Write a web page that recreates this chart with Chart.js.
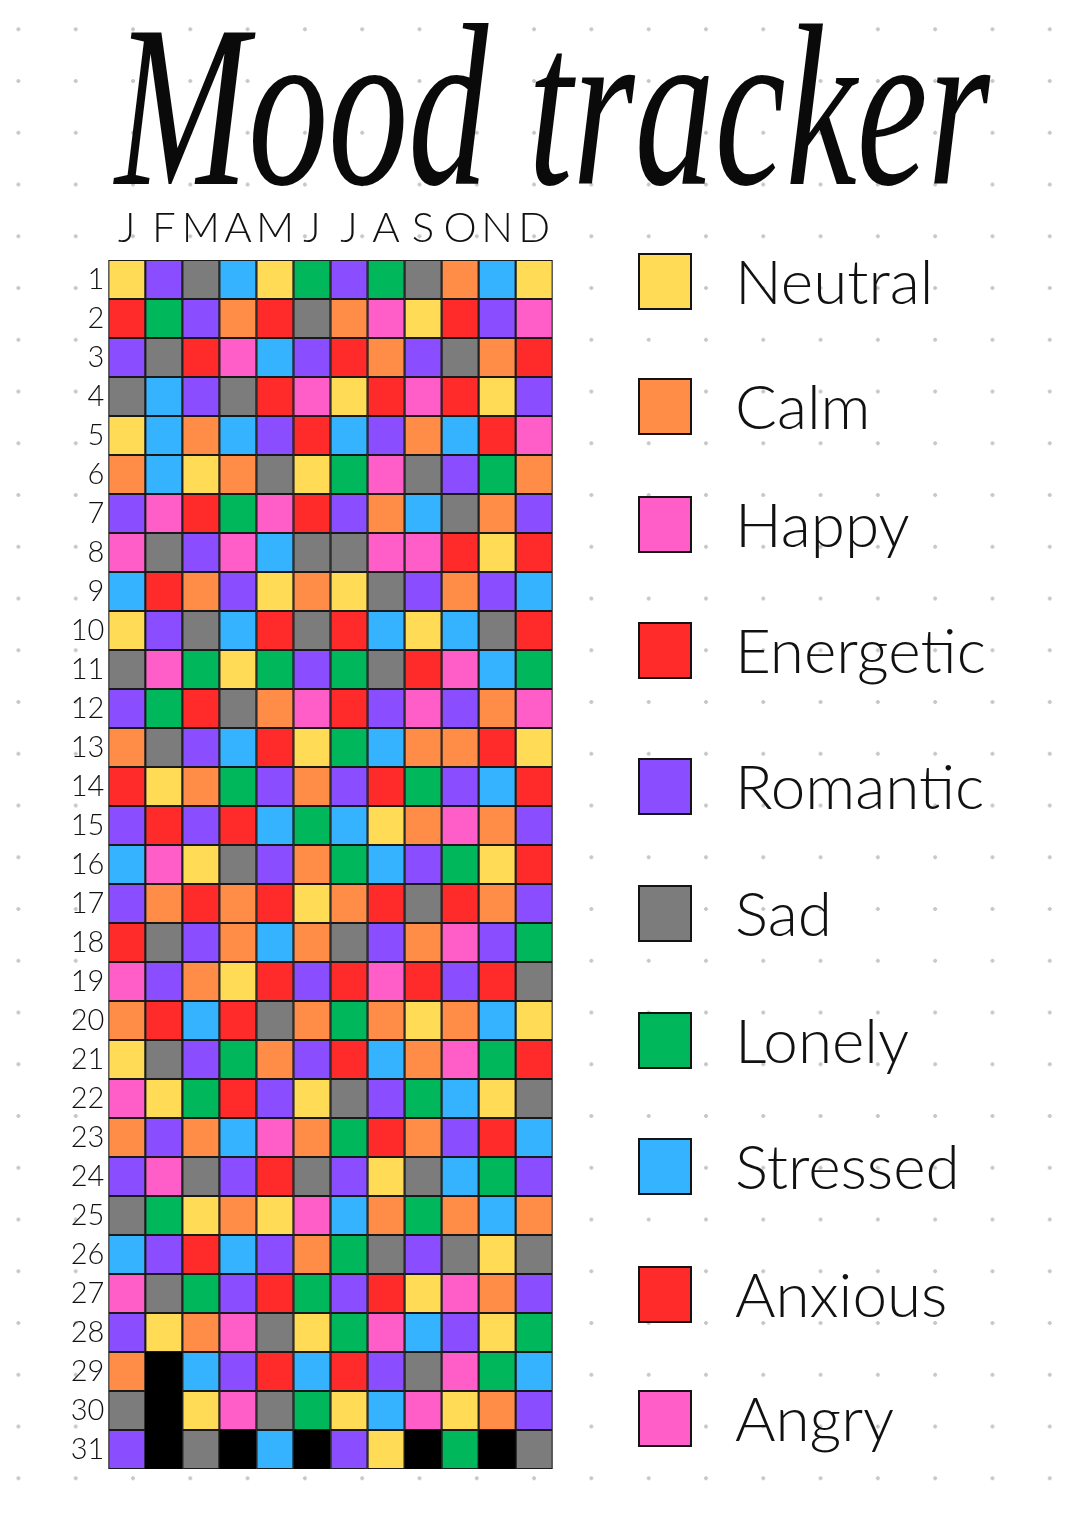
<!DOCTYPE html>
<html>
<head>
<meta charset="utf-8">
<script src="https://cdn.jsdelivr.net/npm/chart.js@4/dist/chart.umd.min.js"></script>
<style>
  html, body { margin: 0; padding: 0; }
  body {
    width: 1080px; height: 1528px; position: relative; overflow: hidden;
    background-color: #ffffff;
    background-image: radial-gradient(circle, #c8c8c8 0, #c8c8c8 1.6px, rgba(255,255,255,0) 2.2px);
    background-size: 57.3px 51.75px;
    background-position: -10.25px 3.4px;
  }
  #title {
    position: absolute; left: 115px; top: -8px;
    font-family: "Liberation Serif", "DejaVu Serif", serif;
    font-style: italic; font-size: 230px; line-height: 1;
    color: #0a0a0a; white-space: nowrap;
    transform-origin: 0 0;
  }
  #chartBox { position: absolute; left: 0; top: 0; width: 560px; height: 1480px; }
  .item { position: absolute; left: 638px; height: 57px; }
  .sw { position: absolute; left: 0; top: 0; width: 50px; height: 53px; border: 2.5px solid #141414; }
  .lab {
    position: absolute; left: 97px; top: 50%; transform: translateY(-52%);
    font-family: "Lato", "Open Sans", sans-serif; font-weight: 300;
    font-size: 62px; line-height: 1; color: #111; white-space: nowrap;
  }
</style>
</head>
<body>
<div id="title">Mood tracker</div>
<div id="chartBox"><canvas id="c"></canvas></div>
<div id="legend"></div>
<script>
// ---- data ----
const months = ['J','F','M','A','M','J','J','A','S','O','N','D'];
const days = [1,2,3,4,5,6,7,8,9,10,11,12,13,14,15,16,17,18,19,20,21,22,23,24,25,26,27,28,29,30,31];

const moodNames  = ['Neutral','Calm','Happy','Energetic','Romantic','Sad','Lonely','Stressed','Anxious','Angry'];
const moodColors = ['#FFDB56','#FF8D48','#FF5EC8','#FF2B2B','#8A4DFF','#7C7C7C','#00B75C','#35B3FF','#FF2B2B','#FF5EC8'];
// cell codes: Y Neutral, O Calm, P Happy/Angry, R Energetic/Anxious, V Romantic, G Sad, N Lonely, B Stressed, X no such date
const codeMood = { Y:'Neutral', O:'Calm', P:'Happy', R:'Energetic', V:'Romantic', G:'Sad', N:'Lonely', B:'Stressed' };
const noDateColor = '#000000';

const jan = ['Y','R','V','G','Y','O','V','P','B','Y','G','V','O','R','V','B','V','R','P','O','Y','P','O','V','G','B','P','V','O','G','V'];
const feb = ['V','N','G','B','B','B','P','G','R','V','P','N','G','Y','R','P','O','G','V','R','G','Y','V','P','N','V','G','Y','X','X','X'];
const mar = ['G','V','R','V','O','Y','R','V','O','G','N','R','V','O','V','Y','R','V','O','B','V','N','O','G','Y','R','N','O','B','Y','G'];
const apr = ['B','O','P','G','B','O','N','P','V','B','Y','G','B','N','R','G','O','O','Y','R','N','R','B','V','O','B','V','P','V','P','X'];
const may = ['Y','R','B','R','V','G','P','B','Y','R','N','O','R','V','B','V','R','B','R','G','O','V','P','R','Y','V','R','G','R','G','B'];
const jun = ['N','G','V','P','R','Y','R','G','O','G','V','P','Y','O','N','O','Y','O','V','O','V','Y','O','G','P','O','N','Y','B','N','X'];
const jul = ['V','O','R','Y','B','N','V','G','Y','R','N','R','N','V','B','N','O','G','R','N','R','G','N','V','B','N','V','N','R','Y','V'];
const aug = ['N','P','O','R','V','P','O','P','G','B','G','V','B','R','Y','B','R','V','P','O','B','V','R','Y','O','G','R','P','V','B','Y'];
const sep = ['G','Y','V','P','O','G','B','P','V','Y','R','P','O','N','O','V','G','O','R','Y','O','N','O','G','N','V','Y','B','G','P','X'];
const oct = ['O','R','G','R','B','V','G','R','O','B','P','V','O','V','P','N','R','P','V','O','P','B','V','B','O','G','P','V','P','Y','N'];
const nov = ['B','V','O','Y','R','N','O','Y','V','G','B','O','R','B','O','Y','O','V','R','B','N','Y','R','N','B','Y','O','Y','N','O','X'];
const dec = ['Y','P','R','V','P','O','V','R','B','R','N','P','Y','R','V','R','V','N','G','Y','R','G','B','V','O','G','V','N','B','V','G'];

const monthCols = [jan, feb, mar, apr, may, jun, jul, aug, sep, oct, nov, dec];

function cellColor(code) {
  if (code === 'X') return noDateColor;
  return moodColors[moodNames.indexOf(codeMood[code])];
}

// ---- chart ----
const datasets = days.map((d, i) => ({
  label: 'Day ' + d,
  data: months.map(() => [d - 1, d]),
  backgroundColor: monthCols.map(col => cellColor(col[i])),
  borderColor: monthCols.map(col => col[i] === 'X' ? '#000' : '#1a1a1a'),
  borderWidth: 1.4,
  borderSkipped: false,
  barPercentage: 1,
  categoryPercentage: 1,
  grouped: false
}));

const handFont = { family: 'Lato, "Open Sans", sans-serif', weight: 300 };

new Chart(document.getElementById('c'), {
  type: 'bar',
  data: { labels: months, datasets },
  options: {
    responsive: true, maintainAspectRatio: false, animation: false,
    devicePixelRatio: 1,
    layout: { padding: { top: 0, right: 7.3, bottom: 11, left: 0 } },
    plugins: { legend: { display: false }, tooltip: { enabled: false } },
    scales: {
      x: {
        type: 'category', position: 'top', offset: true,
        grid: { display: false, drawTicks: false }, border: { display: false },
        ticks: { color: '#111', padding: 6, font: Object.assign({ size: 42 }, handFont), maxRotation: 0, autoSkip: false },
        afterFit: s => { s.height = 260; s.paddingLeft = 0; s.paddingRight = 0; }
      },
      y: {
        type: 'linear', reverse: true, min: 0, max: 31,
        grid: { display: false, drawTicks: false }, border: { display: false },
        afterBuildTicks: s => { s.ticks = days.map(d => ({ value: d - 0.5 })); },
        ticks: {
          autoSkip: false, color: '#111', padding: 4,
          font: Object.assign({ size: 29 }, handFont),
          callback: v => String(Math.round(v + 0.5))
        },
        afterFit: s => { s.width = 108.3; s.paddingTop = 0; s.paddingBottom = 0; }
      }
    }
  }
});

// ---- legend ----
const legendTopCenters = [281, 406, 524, 650, 786, 913, 1040, 1166, 1294, 1418];
const lg = document.getElementById('legend');
moodNames.forEach((m, i) => {
  const it = document.createElement('div');
  it.className = 'item';
  it.style.top = (legendTopCenters[i] - 28.5) + 'px';
  it.innerHTML = '<div class="sw" style="background:' + moodColors[i] + '"></div><div class="lab">' + m + '</div>';
  lg.appendChild(it);
});

// ---- title fit ----
const t = document.getElementById('title');
const w = t.getBoundingClientRect().width;
t.style.transform = 'scaleX(' + (875 / w) + ')';
</script>
</body>
</html>
